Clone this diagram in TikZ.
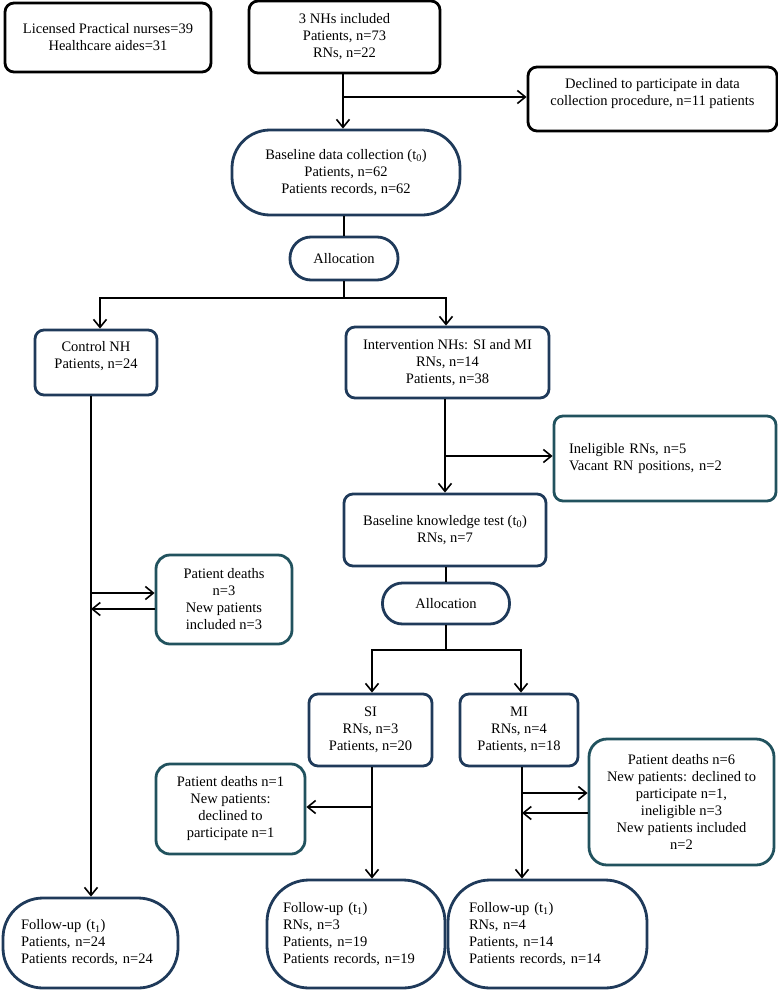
\documentclass[tikz,border=0pt]{standalone}
\usepackage{fontspec}
\setmainfont{Liberation Serif}
\usetikzlibrary{arrows.meta}
\definecolor{navy}{RGB}{31,58,90}
\definecolor{tealb}{RGB}{33,82,94}
\begin{document}
\begin{tikzpicture}[x=1pt,y=-1pt,
  every node/.style={font=\fontsize{14.5}{17}\selectfont, inner sep=0pt},
  bx/.style={draw, line width=2.8pt, rounded corners=9pt, align=center},
  blk/.style={bx, draw=black},
  nv/.style={bx, draw=navy},
  tl/.style={bx, draw=tealb},
  arr/.style={line width=2pt, -{Straight Barb[length=8pt,width=13pt,line width=1.6pt]}},
  ln/.style={line width=2pt}]
\useasboundingbox (0,0) rectangle (778,993);

\node[blk, minimum width=206, minimum height=69] (lpn) at (108,37.5) {Licensed Practical nurses=39\\Healthcare aides=31};
\node[blk, minimum width=191, minimum height=72] (nh) at (344.5,37) {3 NHs included\\Patients, n=73\\RNs, n=22};
\node[blk, minimum width=249, minimum height=64] (decl) at (652.5,99) {Declined to participate in data\\collection procedure, n=11 patients\\[-3pt]\mbox{}};
\node[nv, rounded corners=38pt, minimum width=228, minimum height=85] (base) at (346,172.5) {Baseline data collection (t\textsubscript{0})\\Patients, n=62\\Patients records, n=62};
\node[nv, rounded corners=21pt, minimum width=108, minimum height=43] (alloc1) at (344,258.5) {Allocation};
\node[nv, minimum width=122, minimum height=65] (ctrl) at (96,362.5) {Control NH\\Patients, n=24\\[-1pt]\mbox{}};
\node[nv, minimum width=203, minimum height=71] (int) at (447.5,362.5) {Intervention NHs: SI and MI\\RNs, n=14\\Patients, n=38};
\node[tl, align=left, text width=192, inner xsep=15, minimum height=85] (inel) at (665,458.5) {Ineligible RNs, n=5\\Vacant RN positions, n=2};
\node[nv, minimum width=202, minimum height=72] (bk) at (445,530) {Baseline knowledge test (t\textsubscript{0})\\RNs, n=7};
\node[nv, rounded corners=20pt, minimum width=127, minimum height=41] (alloc2) at (446,603.5) {Allocation};
\node[tl, rounded corners=14pt, minimum width=136, minimum height=89] (cd) at (224,599.5) {Patient deaths\\n=3\\New patients\\included n=3};
\node[nv, minimum width=123, minimum height=72] (si) at (370.5,730) {SI\\RNs, n=3\\Patients, n=20};
\node[nv, minimum width=118, minimum height=72] (mi) at (519,730) {MI\\RNs, n=4\\Patients, n=18};
\node[tl, rounded corners=14pt, minimum width=149, minimum height=90] (sd) at (230.5,809) {Patient deaths n=1\\New patients:\\declined to\\participate n=1};
\node[tl, rounded corners=18pt, minimum width=185, minimum height=126] (md) at (681.5,802) {Patient deaths n=6\\New patients: declined to\\participate n=1,\\ineligible n=3\\New patients included\\n=2};
\node[nv, rounded corners=40pt, align=left, text width=139, inner xsep=18, minimum height=90] (fu1) at (90.5,943) {Follow-up (t\textsubscript{1})\\Patients, n=24\\Patients records, n=24};
\node[nv, rounded corners=42pt, align=left, text width=146, inner xsep=16, minimum height=108] (fu2) at (356,934) {Follow-up (t\textsubscript{1})\\RNs, n=3\\Patients, n=19\\Patients records, n=19};
\node[nv, rounded corners=42pt, align=left, text width=157, inner xsep=21, minimum height=108] (fu3) at (547.5,934) {Follow-up (t\textsubscript{1})\\RNs, n=4\\Patients, n=14\\Patients records, n=14};

% connectors
\draw[arr] (343,73 |- nh.south) -- (343,0 |- base.north);
\draw[arr] (343,97) coordinate (b1) -- (decl.west |- b1);
\draw[ln] (base.south -| alloc1.north) -- (alloc1.north);
\coordinate (j1) at (344,298);
\draw[ln] (alloc1.south) -- (j1);
\draw[arr] (j1) -| ([xshift=4pt]ctrl.north);
\draw[arr] (j1) -| ([xshift=-1.5pt]int.north);
\draw[arr] ([xshift=0.5pt]fu1.north |- ctrl.south) -- ([xshift=0.5pt]fu1.north);
\draw[arr] ([xshift=0.5pt]fu1.north |- 0,593) -- (cd.west |- 0,593);
\draw[arr] (cd.west |- 0,609) -- ([xshift=0.5pt]fu1.north |- 0,609);
\draw[arr] (bk.north |- int.south) -- (bk.north);
\draw[arr] (bk.north |- 0,456) -- (inel.west |- 0,456);
\draw[ln] (alloc2.north |- bk.south) -- (alloc2.north);
\coordinate (j2) at (446,650);
\draw[ln] (alloc2.south) -- (j2);
\draw[arr] (j2) -| ([xshift=1.5pt]si.north);
\draw[arr] (j2) -| ([xshift=2pt]mi.north);
\draw[arr] ([xshift=1.5pt]si.south) -- ([xshift=1.5pt]si.south |- fu2.north);
\draw[arr] ([xshift=1.5pt]si.south |- 0,807) -- (sd.east |- 0,807);
\draw[arr] ([xshift=3pt]mi.south) -- ([xshift=3pt]mi.south |- fu3.north);
\draw[arr] ([xshift=3pt]mi.south |- 0,793) -- (md.west |- 0,793);
\draw[arr] (md.west |- 0,813) -- ([xshift=3pt]mi.south |- 0,813);
\end{tikzpicture}
\end{document}
